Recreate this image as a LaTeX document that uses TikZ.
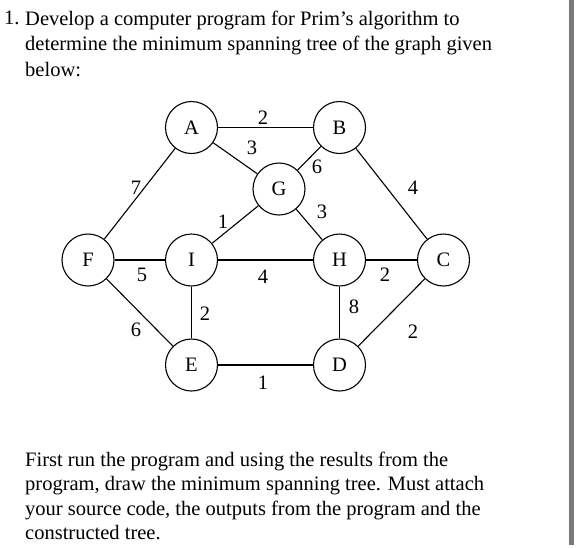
\documentclass[tikz,border=0pt]{standalone}
\usepackage{fontspec}
\setmainfont{Liberation Serif}
\usetikzlibrary{positioning}
\definecolor{BarGray}{RGB}{122,122,122}

\begin{document}
\begin{tikzpicture}[x=1pt, y=-1pt,
	font=\fontsize{20.5}{25.3}\selectfont,
	vertex/.style={circle, draw, line width=1.1pt, minimum size=52pt, inner sep=0pt},
	link/.style={line width=1.1pt},
	weight/.style={inner sep=0pt}]
			\useasboundingbox (0,0) rectangle (579,547);
			\fill[BarGray] (569,0) rectangle (574,545);
			% question text
			\node[anchor=north west, inner sep=0pt] (num) at (4,11) {1.};
			\node[anchor=north west, align=left, inner sep=0pt] (task) at (25,11) {Develop a computer program for Prim's algorithm to\\determine the minimum spanning tree of the graph given\\below:};
			\node[anchor=north west, align=left, inner sep=0pt, font=\fontsize{20.5}{24.3}\selectfont] (note) at (25,452) {First run the program and using the results from the\\program, draw the minimum spanning tree. Must attach\\your source code, the outputs from the program and the\\constructed tree.};
			% vertices
			\node[vertex] (A) at (191.5,127.5) {A};
			\node[vertex] (B) at (339.5,127.5) {B};
			\node[vertex] (G) at (279,189) {G};
			\node[vertex] (F) at (88,260) {F};
			\node[vertex] (I) at (191.5,260) {I};
			\node[vertex] (H) at (339.5,260) {H};
			\node[vertex] (C) at (443.5,260) {C};
			\node[vertex] (E) at (191.5,365) {E};
			\node[vertex] (D) at (339.5,365) {D};
			% edges
			\draw[link] (A) -- (B);
			\draw[link] (A) -- (G);
			\draw[link] (G) -- (B);
			\draw[link] (B) -- (C);
			\draw[link] (F) -- (A);
			\draw[link] (G) -- (I);
			\draw[link] (G) -- (H);
			\draw[link] (F) -- (I);
			\draw[link] (I) -- (H);
			\draw[link] (H) -- (C);
			\draw[link] (F) -- (E);
			\draw[link] (I) -- (E);
			\draw[link] (H) -- (D);
			\draw[link] (C) -- (D);
			\draw[link] (E) -- (D);
			% weights
			\node[weight] (wAB) at (263,118) {2};
			\node[weight] (wAG) at (252,148) {3};
			\node[weight] (wGB) at (317,167) {6};
			\node[weight] (wBC) at (413,188) {4};
			\node[weight] (wFA) at (136,188) {7};
			\node[weight] (wGI) at (223,222) {1};
			\node[weight] (wGH) at (322,212) {3};
			\node[weight] (wFI) at (142,275) {5};
			\node[weight] (wIH) at (263,277) {4};
			\node[weight] (wHC) at (385,275) {2};
			\node[weight] (wFE) at (136,330) {6};
			\node[weight] (wIE) at (205,314) {2};
			\node[weight] (wHD) at (354,307) {8};
			\node[weight] (wCD) at (413,332) {2};
			\node[weight] (wED) at (263,383) {1};
		\end{tikzpicture}
\end{document}
